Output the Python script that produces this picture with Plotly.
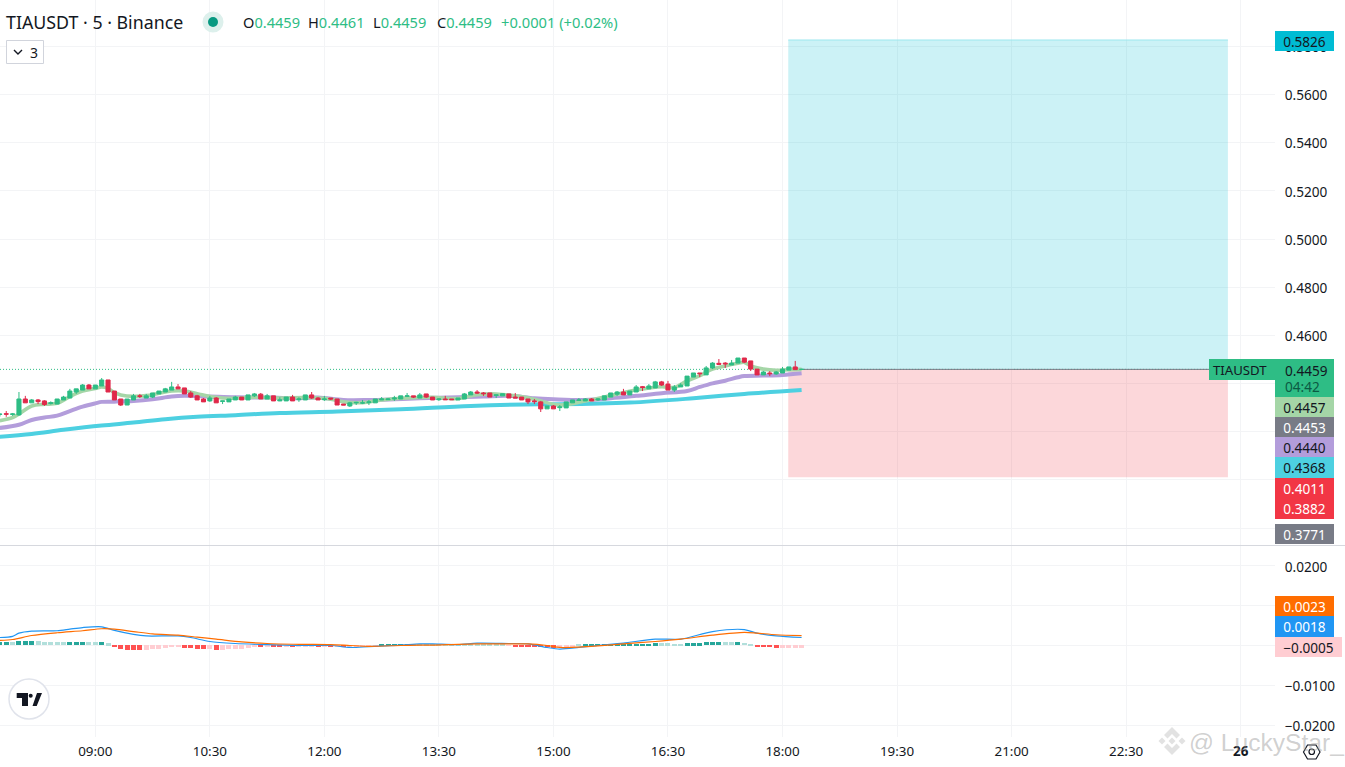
import pandas as pd
import plotly.graph_objects as go

W, H = 1345, 767
times = pd.date_range("2025-10-25 07:45", periods=127, freq="5min")

open_ = [.4272,.4275,.4272,.4270,.4336,.4320,.4332,.4328,.4317,.4315,.4332,.4340,.4365,.4373,.4394,.4378,.4390,.4415,.4369,.4336,
.4311,.4332,.4349,.4340,.4344,.4357,.4365,.4373,.4386,.4382,.4361,.4349,.4336,.4328,.4340,.4326,.4324,.4332,.4344,.4332,
.4349,.4356,.4336,.4349,.4328,.4328,.4344,.4333,.4332,.4353,.4340,.4333,.4340,.4336,.4315,.4307,.4320,.4319,.4321,.4320,
.4332,.4333,.4336,.4336,.4347,.4349,.4340,.4357,.4344,.4333,.4336,.4336,.4332,.4336,.4353,.4365,.4361,.4361,.4351,.4349,
.4357,.4344,.4344,.4336,.4328,.4324,.4295,.4307,.4300,.4299,.4320,.4330,.4328,.4336,.4332,.4332,.4344,.4356,.4365,.4353,
.4365,.4387,.4378,.4382,.4407,.4398,.4373,.4386,.4390,.4427,.4444,.4436,.4465,.4484,.4485,.4477,.4485,.4506,.4494,.4460,
.4436,.4444,.4440,.4444,.4456,.4469,.4459]
high = [.4277,.4286,.4278,.4365,.4349,.4336,.4336,.4331,.4326,.4336,.4349,.4378,.4378,.4398,.4398,.4394,.4423,.4415,.4369,.4336,
.4336,.4357,.4357,.4357,.4361,.4369,.4382,.4407,.4398,.4382,.4369,.4353,.4340,.4349,.4344,.4328,.4336,.4349,.4344,.4353,
.4361,.4361,.4357,.4349,.4343,.4344,.4353,.4343,.4353,.4365,.4344,.4349,.4340,.4336,.4315,.4324,.4324,.4332,.4332,.4336,
.4344,.4340,.4349,.4349,.4361,.4349,.4361,.4357,.4344,.4340,.4349,.4336,.4340,.4361,.4369,.4373,.4365,.4361,.4353,.4358,
.4357,.4361,.4344,.4336,.4336,.4328,.4307,.4311,.4311,.4324,.4332,.4340,.4340,.4340,.4340,.4349,.4361,.4369,.4378,.4369,
.4394,.4390,.4398,.4411,.4411,.4411,.4394,.4402,.4431,.4444,.4444,.4473,.4489,.4502,.4489,.4498,.4506,.4506,.4494,.4460,
.4452,.4452,.4452,.4469,.4469,.4494,.4461]
low = [.4263,.4262,.4266,.4266,.4320,.4320,.4315,.4307,.4313,.4315,.4332,.4340,.4357,.4373,.4378,.4378,.4390,.4365,.4332,.4307,
.4311,.4332,.4340,.4340,.4340,.4357,.4365,.4373,.4378,.4357,.4340,.4332,.4324,.4324,.4320,.4315,.4324,.4332,.4332,.4332,
.4344,.4336,.4336,.4328,.4327,.4328,.4328,.4324,.4332,.4336,.4332,.4328,.4332,.4311,.4311,.4303,.4311,.4315,.4311,.4320,
.4332,.4332,.4328,.4336,.4344,.4340,.4340,.4340,.4332,.4328,.4332,.4333,.4332,.4336,.4353,.4357,.4349,.4344,.4340,.4349,
.4340,.4340,.4332,.4315,.4315,.4282,.4295,.4295,.4286,.4299,.4320,.4328,.4328,.4328,.4328,.4332,.4344,.4349,.4353,.4353,
.4365,.4369,.4378,.4382,.4390,.4373,.4365,.4386,.4390,.4427,.4427,.4436,.4460,.4477,.4465,.4477,.4485,.4485,.4452,.4436,
.4436,.4431,.4436,.4444,.4456,.4458,.4459]
close = [.4273,.4273,.4274,.4336,.4320,.4332,.4325,.4313,.4320,.4336,.4344,.4369,.4378,.4394,.4378,.4394,.4415,.4365,.4332,.4311,
.4336,.4349,.4347,.4349,.4361,.4369,.4378,.4386,.4378,.4357,.4344,.4332,.4324,.4340,.4320,.4328,.4336,.4344,.4332,.4353,
.4357,.4336,.4349,.4328,.4332,.4344,.4328,.4336,.4353,.4340,.4332,.4336,.4336,.4311,.4311,.4320,.4322,.4320,.4324,.4336,
.4336,.4336,.4340,.4349,.4349,.4344,.4353,.4344,.4332,.4336,.4333,.4333,.4340,.4357,.4365,.4361,.4358,.4344,.4353,.4358,
.4340,.4340,.4332,.4324,.4325,.4295,.4307,.4295,.4303,.4324,.4332,.4332,.4336,.4328,.4336,.4349,.4361,.4365,.4353,.4369,
.4386,.4384,.4390,.4407,.4394,.4373,.4386,.4394,.4431,.4444,.4441,.4465,.4485,.4480,.4482,.4485,.4506,.4489,.4460,.4436,
.4448,.4441,.4448,.4460,.4469,.4458,.4459]

ema_fast_at = [0,2,3,5,7,9,11,13,15,16,17,18,19,21,23,25,27,29,31,33,35,37,40,44,48,52,54,57,60,64,68,72,75,78,81,84,88,92,96,100,104,106,108,110,112,114,116,117,118,120,122,124,126]
ema_fast = [.4246,.4259,.4274,.4307,.4314,.4318,.4346,.4369,.4380,.4386,.4380,.4362,.4353,.4347,.4350,.4360,.4369,.4369,.4358,.4346,.4340,.4339,.4343,.4340,.4342,.4335,.4324,.4321,.4332,.4340,.4343,.4338,.4354,.4357,.4349,.4335,.4311,.4328,.4350,.4373,.4387,.4384,.4411,.4433,.4460,.4473,.4484,.4488,.4473,.4460,.4455,.4458,.4459]
ema_mid_at = [0,3,5,7,9,11,13,15,16,18,21,24,27,29,33,37,43,46,50,54,58,62,66,72,76,80,84,87,92,96,100,104,108,110,112,114,116,117,120,123,126]
ema_mid = [.4216,.4229,.4249,.4259,.4267,.4286,.4304,.4318,.4324,.4325,.4328,.4335,.4346,.4349,.4346,.4343,.4342,.4339,.4342,.4332,.4332,.4335,.4339,.4343,.4346,.4349,.4339,.4335,.4332,.4339,.4349,.4360,.4369,.4386,.4401,.4412,.4426,.4431,.4433,.4436,.4443]
ema_slow_at = [0,5,10,16,21,26,31,37,44,53,63,74,85,88,99,109,117,126]
ema_slow = [.4179,.4191,.4208,.4226,.4238,.4252,.4262,.4269,.4278,.4284,.4293,.4307,.4314,.4314,.4321,.4339,.4357,.4373]

macd_at = [0,2,3,5,9,11,13,16,18,21,23,28,30,33,37,42,47,52,55,58,63,66,68,72,75,80,83,86,88,91,94,98,103,107,112,117,119,122,126]
macd = [.0020,.0023,.0031,.0036,.0037,.0041,.0045,.0047,.0038,.0028,.0024,.0024,.0020,.0010,.0005,.0002,.0000,.0000,-.0005,-.0003,.0001,.0004,.0004,.0002,.0006,.0005,.0004,-.0005,-.0009,-.0005,.0000,.0006,.0016,.0016,.0035,.0040,.0031,.0024,.0020]
signal_at = [0,2,5,9,13,16,18,21,24,28,31,34,38,42,47,52,55,58,63,66,68,72,75,80,83,86,88,91,94,98,103,107,112,117,119,122,126]
signal = [.0013,.0015,.0025,.0032,.0037,.0042,.0041,.0035,.0029,.0026,.0021,.0016,.0009,.0005,.0003,.0002,.0000,-.0002,.0000,.0001,.0001,.0003,.0004,.0004,.0004,.0000,-.0005,-.0004,-.0001,.0004,.0010,.0016,.0026,.0033,.0031,.0027,.0025]
hist = [.0010,.0010,.0010,.00125,.00125,.00125,.00125,.0009,.00075,.00075,.00075,.00075,.00075,.00075,.00075,.00075,.00075,.0005,
-.0005,-.0010,-.00125,-.00125,-.00125,-.00125,-.0010,-.0010,-.00075,-.0005,-.0005,-.00075,-.00075,-.0010,-.0010,-.0010,-.00125,-.00125,-.0010,-.0010,-.0010,-.00075,-.0005,-.0005,-.0005,-.0005,-.0005,-.0005,-.0004,-.0004,-.0004,-.0004,-.0004,-.00025,-.00025,-.00025,-.00025,-.00025,-.00025,-.00025,-.00025,-.00025,
.00015,.00015,.00015,.0002,.00015,.00015,.00015,.00015,.00015,.00015,.00015,.00015,.00015,.00015,.00015,.00015,.00015,.00015,.00015,.00015,
-.0001,-.00015,-.00025,-.0003,-.0004,-.0004,-.0005,-.00065,-.00025,-.00025,-.00025,
.00015,.00015,.00015,.00015,.00025,.00025,.00025,.00025,.00035,.00035,.0004,.0004,.0005,.0005,.0005,.00035,.00035,.0005,.0005,.0005,.00075,.0010,.0010,.00075,.00075,.00075,.0006,.00035,
-.00025,-.0005,-.0005,-.00075,-.00075,-.0006,-.0006,-.0006]
hist_dark_up = {0,1,3,4,5,11,12,13,16,60,61,62,63,64,92,93,94,95,96,97,98,99,100,101,102,103,108,109,110,111,112,113,116}
hist_dark_down = {18,19,20,21,22,29,30,31,32,34,41,43,44,46,50,52,54,81,82,83,84,85,86,87,119,120,121,122}

position_start, position_end = "2025-10-25 18:04:30", "2025-10-25 23:50"
position_target, position_entry, position_stop = 0.5826, 0.4459, 0.4011
last_price = 0.4459

price_ticks = [.38,.40,.42,.44,.46,.48,.50,.52,.54,.56,.58]
price_tick_labels = ["0.3800","","","","0.4600","0.4800","0.5000","0.5200","0.5400","0.5600","0.5800"]
macd_ticks = [-.02,-.01,0,.01,.02]
macd_tick_labels = ["−0.0200","−0.0100","","","0.0200"]
time_ticks = ["2025-10-25 09:00","2025-10-25 10:30","2025-10-25 12:00","2025-10-25 13:30","2025-10-25 15:00","2025-10-25 16:30","2025-10-25 18:00","2025-10-25 19:30","2025-10-25 21:00","2025-10-25 22:30","2025-10-26 00:00"]
time_labels = ["09:00","10:30","12:00","13:30","15:00","16:30","18:00","19:30","21:00","22:30","<b>26</b>"]

FONT = "Noto Sans"
GRID = "#F3F4F6"
UP, DOWN = "#2EBD85", "#E0294A"
X_RANGE = ["2025-10-25 07:45:06", "2025-10-26 00:27:00"]

px = lambda x: x / W
py = lambda y: 1 - y / H

fig = go.Figure()
pick = lambda idx: [times[i] for i in idx]
for at, vals, col, w in [(ema_slow_at, ema_slow, "#4DD0E1", 4), (ema_mid_at, ema_mid, "#B39DDB", 4), (ema_fast_at, ema_fast, "#A5D6A7", 3.6)]:
    fig.add_trace(go.Scatter(x=pick(at), y=vals, mode="lines", xaxis="x", yaxis="y",
                             line=dict(color=col, width=w, shape="spline", smoothing=1), hoverinfo="skip", showlegend=False))
fig.add_trace(go.Candlestick(x=times, open=open_, high=high, low=low, close=close, xaxis="x", yaxis="y3", whiskerwidth=0,
                             increasing=dict(line=dict(color=UP, width=1), fillcolor=UP),
                             decreasing=dict(line=dict(color=DOWN, width=1), fillcolor=DOWN), showlegend=False))

bar_cols = []
for i, v in enumerate(hist):
    if v >= 0:
        bar_cols.append("#26A69A" if i in hist_dark_up else "#B2DFDB")
    else:
        bar_cols.append("#FF5252" if i in hist_dark_down else "#FFCDD2")
fig.add_trace(go.Bar(x=times, y=hist, width=236000, xaxis="x2", yaxis="y2", marker=dict(color=bar_cols, line=dict(width=0)), showlegend=False))
fig.add_trace(go.Scatter(x=pick(macd_at), y=macd, mode="lines", xaxis="x2", yaxis="y2", line=dict(color="#2196F3", width=1.2, shape="spline", smoothing=0.8), showlegend=False))
fig.add_trace(go.Scatter(x=pick(signal_at), y=signal, mode="lines", xaxis="x2", yaxis="y2", line=dict(color="#FF6D00", width=1.2, shape="spline", smoothing=0.8), showlegend=False))

shapes = [
    dict(type="rect", xref="x", yref="y", x0=position_start, x1=position_end, y0=position_entry, y1=position_target, fillcolor="rgba(0,188,212,0.2)", line=dict(width=0), layer="between"),
    dict(type="rect", xref="x", yref="y", x0=position_start, x1=position_end, y0=position_stop, y1=position_entry, fillcolor="rgba(242,54,69,0.2)", line=dict(width=0), layer="between"),
    dict(type="line", xref="x", yref="y", x0=position_start, x1=position_end, y0=position_target, y1=position_target, line=dict(color="#9BE7EE", width=1), layer="between"),
    dict(type="line", xref="x", yref="y", x0=position_start, x1=position_end, y0=position_entry, y1=position_entry, line=dict(color="#787B86", width=1), layer="between"),
    dict(type="line", xref="paper", yref="y", x0=0, x1=px(1209), y0=last_price, y1=last_price, line=dict(color=UP, width=1, dash="1px,2px"), layer="between"),
    dict(type="line", xref="paper", yref="paper", x0=0, x1=1, y0=py(545.5), y1=py(545.5), line=dict(color="#D6D8DE", width=1)),
    # last-price tag: body and TIAUSDT tail
    dict(type="rect", xref="paper", yref="paper", x0=px(1209), x1=px(1275), y0=py(359), y1=py(380), fillcolor=UP, line=dict(width=0)),
    dict(type="rect", xref="paper", yref="paper", x0=px(1275), x1=px(1334), y0=py(359), y1=py(397), fillcolor=UP, line=dict(width=0)),
    # status dot
    dict(type="circle", xref="paper", yref="paper", x0=px(202.5), x1=px(223.5), y0=py(11.5), y1=py(32.5), fillcolor="#DDF0EC", line=dict(width=0)),
    dict(type="circle", xref="paper", yref="paper", x0=px(208), x1=px(218), y0=py(17), y1=py(27), fillcolor="#089981", line=dict(width=0)),
    # collapse box
    dict(type="rect", xref="paper", yref="paper", x0=px(6.5), x1=px(43.5), y0=py(40.5), y1=py(63.5), fillcolor="white", line=dict(color="#D1D4DC", width=1)),
    dict(type="path", xref="paper", yref="paper", path=f"M {px(14)} {py(50)} L {px(18)} {py(54)} L {px(22)} {py(50)}", line=dict(color="#131722", width=1.4)),
    # TradingView badge
    dict(type="circle", xref="paper", yref="paper", x0=px(9), x1=px(49), y0=py(679), y1=py(719), fillcolor="white", line=dict(color="#E0E3EB", width=1.5)),
    dict(type="path", xref="paper", yref="paper", fillcolor="#131722", line=dict(width=0),
         path=f"M {px(16.7)} {py(693)} L {px(28)} {py(693)} L {px(28)} {py(706)} L {px(22)} {py(706)} L {px(22)} {py(698)} L {px(16.7)} {py(698)} Z "
              f"M {px(32.5)} {py(706)} L {px(37)} {py(693)} L {px(42)} {py(693)} L {px(36.7)} {py(706)} Z"),
    dict(type="circle", xref="paper", yref="paper", x0=px(28.7), x1=px(32.7), y0=py(693.7), y1=py(697.7), fillcolor="#131722", line=dict(width=0)),
    # settings hexagon
    dict(type="path", xref="paper", yref="paper", line=dict(color="#131722", width=1.2),
         path=f"M {px(1303.5)} {py(752)} L {px(1307.5)} {py(745)} L {px(1316)} {py(745)} L {px(1320)} {py(752)} L {px(1316)} {py(759)} L {px(1307.5)} {py(759)} Z"),
    dict(type="circle", xref="paper", yref="paper", x0=px(1309), x1=px(1314.5), y0=py(749), y1=py(754.5), line=dict(color="#131722", width=1.2)),
    # watermark diamond
    dict(type="path", xref="paper", yref="paper", fillcolor="rgba(190,190,190,0.45)", line=dict(width=0),
         path=f"M {px(1172)} {py(727)} L {px(1180)} {py(735)} L {px(1176.5)} {py(738.5)} L {px(1172)} {py(734)} L {px(1167.5)} {py(738.5)} L {px(1164)} {py(735)} Z "
              f"M {px(1172)} {py(755)} L {px(1180)} {py(747)} L {px(1176.5)} {py(743.5)} L {px(1172)} {py(748)} L {px(1167.5)} {py(743.5)} L {px(1164)} {py(747)} Z "
              f"M {px(1172)} {py(737.5)} L {px(1175.5)} {py(741)} L {px(1172)} {py(744.5)} L {px(1168.5)} {py(741)} Z "
              f"M {px(1162)} {py(737.5)} L {px(1165.5)} {py(741)} L {px(1162)} {py(744.5)} L {px(1158.5)} {py(741)} Z "
              f"M {px(1182)} {py(737.5)} L {px(1185.5)} {py(741)} L {px(1182)} {py(744.5)} L {px(1178.5)} {py(741)} Z"),
]

def note(x, y, text, size=13.6, color="#131722", xanchor="left", **kw):
    return dict(x=px(x), y=py(y), xref="paper", yref="paper", text=text, showarrow=False, xanchor=xanchor, yanchor="middle",
                font=dict(family=FONT, size=size, color=color), borderpad=0, borderwidth=0, **kw)

def tag(y0, y1, text, bg, color="#131722", x0=1275, x1=1334):
    return dict(x=px(x0), y=py((y0 + y1) / 2), xref="paper", yref="paper", text=text, showarrow=False, xanchor="left", yanchor="middle",
                width=x1 - x0, height=y1 - y0, bgcolor=bg, align="center", valign="middle", borderpad=0, borderwidth=0,
                font=dict(family=FONT, size=13.6, color=color))

g = UP
annotations = [
    note(6, 22, "TIAUSDT · 5 · Binance", size=17.8),
    note(242.5, 22, f'O<span style="color:{g}">0.4459</span>', size=14.6),
    note(308, 22, f'H<span style="color:{g}">0.4461</span>', size=14.6),
    note(373, 22, f'L<span style="color:{g}">0.4459</span>', size=14.6),
    note(437, 22, f'C<span style="color:{g}">0.4459</span>', size=14.6),
    note(501, 22, "+0.0001 (+0.02%)", size=14.7, color=g),
    note(30, 52, "3", size=14),
    tag(31, 51, "0.5826", "#00BCD4"),
    note(1213, 370, "TIAUSDT", size=13.2),
    note(1285, 370, "0.4459"),
    note(1285, 387, "04:42", color="#0B5A43"),
    tag(397, 417, "0.4457", "#A5D6A7"),
    tag(417, 437, "0.4453", "#787B86", "white"),
    tag(437, 457, "0.4440", "#B39DDB"),
    tag(457, 478, "0.4368", "#4DD0E1"),
    tag(478, 498, "0.4011", "#F23645", "white"),
    tag(498, 519, "0.3882", "#F23645", "white"),
    tag(524, 544, "0.3771", "#787B86", "white"),
    tag(596, 616, "0.0023", "#FF6D00", "white"),
    tag(616, 637, "0.0018", "#2196F3", "white"),
    tag(637, 657, "−0.0005", "#FFCDD2", x1=1342),
    dict(x=px(1189), y=py(742), xref="paper", yref="paper", text="@ LuckyStar_", showarrow=False, xanchor="left", yanchor="middle",
         font=dict(family="Liberation Sans", size=24.6, color="rgba(150,150,150,0.45)"), borderpad=0, borderwidth=0),
]

x_common = dict(type="date", range=X_RANGE, showgrid=True, gridcolor=GRID, gridwidth=1, tickmode="array", tickvals=time_ticks,
                zeroline=False, showline=False, ticks="", rangeslider=dict(visible=False))
y_common = dict(side="right", showgrid=True, gridcolor=GRID, gridwidth=1, zeroline=False, showline=False, tickmode="array",
                ticks="outside", ticklen=6, tickcolor="rgba(0,0,0,0)", ticklabelshift=1,
                tickfont=dict(family=FONT, size=13.6, color="#131722"))

fig.update_layout(
    width=W, height=H, autosize=False, margin=dict(l=0, r=0, t=0, b=0), paper_bgcolor="white", plot_bgcolor="white",
    showlegend=False, hovermode=False, bargap=0, boxgap=0.2, boxgroupgap=0.2, boxmode="overlay", shapes=shapes, annotations=annotations,
    xaxis=dict(domain=[0, 1275 / W], anchor="y", matches="x2", showticklabels=False, ticktext=time_labels, **x_common),
    xaxis2=dict(domain=[0, 1275 / W], anchor="y2", ticktext=time_labels, ticklabelstandoff=5,
                tickfont=dict(family=FONT, size=13.4, color="#131722"), **x_common),
    yaxis=dict(domain=[py(545), 1], range=[.3730, .5992], tickvals=price_ticks, ticktext=price_tick_labels, anchor="x", **y_common),
    yaxis2=dict(domain=[py(737), py(546)], range=[-.0230, .0250], tickvals=macd_ticks, ticktext=macd_tick_labels, anchor="x2", **y_common),
    yaxis3=dict(overlaying="y", range=[.3730, .5992], side="right", anchor="x", showgrid=False, showticklabels=False, zeroline=False, showline=False, ticks=""),
)

fig.write_html("out.html", config=dict(displayModeBar=False),
               post_script="document.body.style.margin='0';document.body.style.overflow='hidden';")
